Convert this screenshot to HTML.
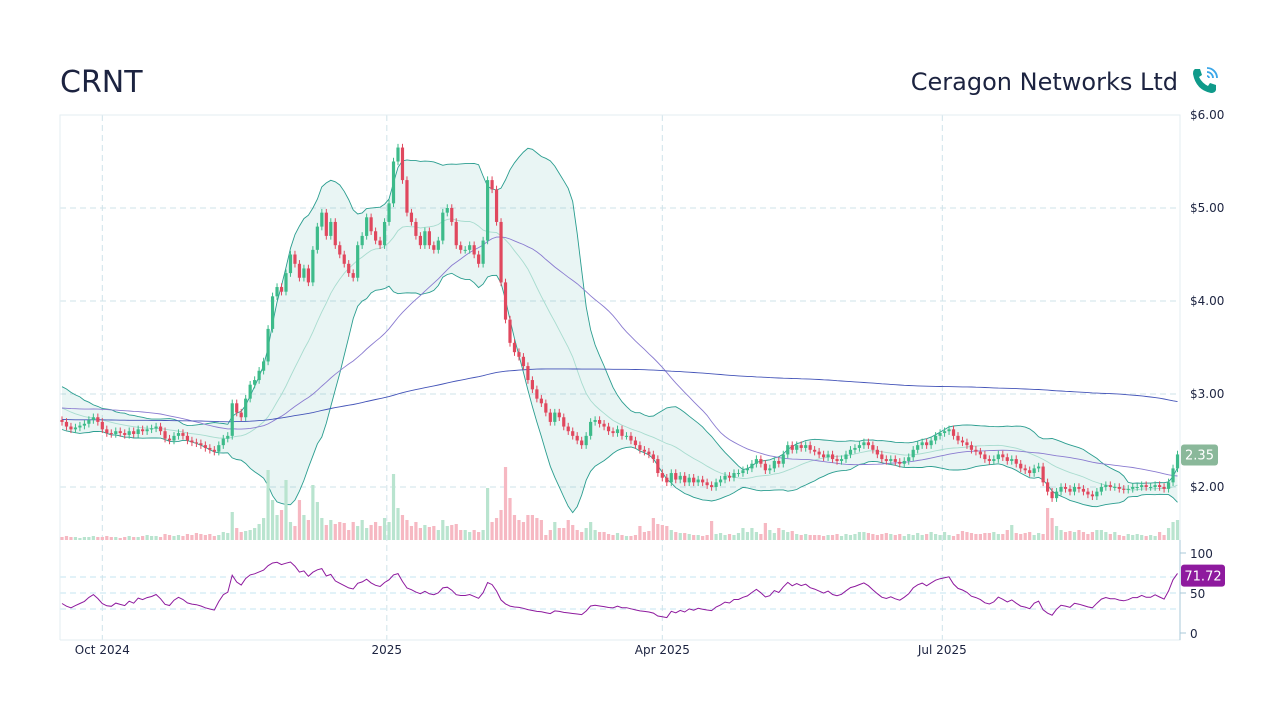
<!DOCTYPE html>
<html><head><meta charset="utf-8"><style>
body{margin:0;background:#fff;font-family:"DejaVu Sans","Liberation Sans",sans-serif;}
#wrap{position:relative;width:1280px;height:720px;overflow:hidden}
.t{position:absolute;color:#1c2340}
</style></head><body>
<div id="wrap">
<div class="t" style="left:60px;top:65px;font-size:30px">CRNT</div>
<div class="t" style="right:102px;top:68px;font-size:24px">Ceragon Networks Ltd</div>
<svg style="position:absolute;left:1190px;top:66px" width="30" height="30" viewBox="0 0 30 30">
<path d="M5 3 L10 3 L12 9 L9 11 Q12 17 18 20 L20 17 L26 19 L26 24 Q25 27 21 27 Q6 24 3 8 Q3 4 5 3Z" fill="#0f9a8a"/>
<path d="M17 6 A6 6 0 0 1 23 12" stroke="#3aa6e8" stroke-width="1.8" fill="none"/>
<path d="M17 2 A10 10 0 0 1 27 12" stroke="#3aa6e8" stroke-width="1.8" fill="none"/>
<path d="M17 10 A2 2 0 0 1 19 12" stroke="#3aa6e8" stroke-width="1.8" fill="none"/>
</svg>
<svg id="c" width="1280" height="720" style="position:absolute;left:0;top:0"></svg>
</div>
<script>
const priorCloses=[2.80,2.85,2.82,2.78,2.75,2.70,2.72,2.68,2.65,2.70,
2.74,2.78,2.80,2.76,2.72,2.69,2.66,2.62,2.60,2.64,
2.68,2.70,2.73,2.75,2.71,2.68,2.65,2.63,2.60,2.58,
2.62,2.65,2.68,2.70,2.72,2.75,2.78,2.74,2.70,2.67,
2.64,2.61,2.58,2.55,2.58,2.62,2.66,2.70,2.73,2.76,
2.79,2.82,2.78,2.74,2.70,2.66,2.63,2.60,2.62,2.65,
2.68,2.71,2.74,2.70,2.67,2.64,2.61,2.58,2.56,2.59,
2.62,2.66,2.69,2.72,2.75,2.72,2.69,2.66,2.63,2.60,
2.58,2.61,2.64,2.67,2.70,2.73,2.76,2.72,2.68,2.65,
2.62,2.60,2.63,2.66,2.69,2.72,2.75,2.78,2.74,2.70,
2.67,2.64,2.61,2.58,2.55,2.58,2.61,2.64,2.67,2.70,
2.72,2.74,2.70,2.67,2.64,2.62,2.60,2.63,2.66,2.69,
2.72,2.75,2.71,2.68,2.65,2.62,2.60,2.58,2.61,2.64,
2.67,2.70,2.73,2.76,2.72,2.69,2.66,2.63,2.60,2.62,
2.65,2.68,2.71,2.74,2.77,2.80,2.84,2.88,2.92,2.96,
2.78,2.80,2.76,2.72,2.75,2.78,2.74,2.70,2.72,2.76,
2.74,2.70,2.73,2.76,2.72,2.75,2.78,2.74,2.80,2.84,
2.88,2.92,2.95,3.00,3.04,3.02,3.06,3.08,3.05,3.10,
3.10,3.05,3.08,3.00,2.95,2.98,2.90,2.92,2.85,2.88,
2.82,2.80,2.84,2.78,2.75,2.78,2.72,2.74,2.70,2.72];
const closes=[2.70,2.65,2.62,2.64,2.66,2.68,2.72,2.75,2.70,2.62,
2.58,2.57,2.60,2.58,2.56,2.60,2.57,2.62,2.60,2.62,
2.63,2.65,2.60,2.52,2.50,2.55,2.58,2.55,2.50,2.48,
2.47,2.45,2.42,2.40,2.38,2.45,2.52,2.55,
2.90,2.80,2.75,2.95,3.10,3.15,3.25,3.35,
3.70,4.05,4.15,4.10,4.30,4.50,4.40,4.25,4.35,4.20,
4.55,4.80,4.95,4.70,4.85,4.60,4.50,4.40,4.30,4.25,
4.60,4.70,4.90,4.75,4.65,4.60,4.85,5.05,5.50,5.65,
5.30,4.95,4.85,4.70,4.60,4.75,4.60,4.55,4.65,4.95,
5.00,4.85,4.60,4.55,4.55,4.60,4.50,4.40,4.65,5.30,
5.20,4.85,4.20,3.80,3.55,
3.45,3.40,3.30,3.15,3.05,2.95,2.90,2.80,2.70,2.80,
2.75,2.65,2.60,2.55,2.50,2.45,2.55,2.70,2.72,2.68,
2.65,2.60,2.58,2.62,2.55,2.55,2.50,2.45,2.40,2.38,
2.35,2.30,2.15,2.10,2.05,2.15,2.08,2.12,2.05,2.10,
2.05,2.08,2.05,2.02,2.00,2.05,2.08,2.12,2.10,2.15,
2.15,2.18,2.20,2.25,2.30,2.25,2.18,2.20,2.28,2.25,
2.35,2.45,2.40,2.45,2.42,2.45,2.40,2.38,2.35,2.32,
2.35,2.30,2.28,2.30,2.35,2.40,2.42,2.45,2.48,2.45,
2.40,2.35,2.30,2.28,2.30,2.27,2.25,2.28,2.32,2.40,
2.45,2.48,2.45,2.50,2.55,2.58,2.60,2.62,2.55,2.50,
2.48,2.45,2.40,2.38,2.35,2.30,2.28,2.30,2.35,2.32,
2.28,2.30,2.25,2.20,2.18,2.15,2.20,2.22,2.05,1.95,
1.88,1.95,2.00,1.98,1.95,2.00,1.98,1.95,1.92,1.90,
1.95,2.00,2.02,2.00,2.00,1.98,1.97,1.98,2.00,2.00,
2.02,2.00,2.00,2.02,2.00,1.98,2.05,2.20,2.35];
const volumes=[3,4,3,3,2,3,3,4,3,3,4,3,3,2,3,4,3,3,4,5,4,4,3,6,5,4,5,4,6,5,7,6,5,6,4,5,8,7,
28,12,8,9,10,12,16,22,
70,40,25,30,60,18,14,40,25,20,
55,38,22,15,20,16,18,17,10,18,
14,20,12,15,18,14,22,18,66,32,
25,20,14,18,12,15,13,14,10,20,
14,15,16,10,10,8,10,8,10,52,
18,22,30,73,42,
25,20,18,25,25,22,20,5,10,18,
12,12,20,15,10,8,12,18,10,8,
8,6,5,7,5,4,4,5,14,8,
9,22,16,15,14,10,8,7,7,6,
5,5,4,5,19,6,7,5,6,5,
7,12,8,12,8,6,17,10,7,12,
10,8,9,6,5,6,5,5,5,4,
5,5,6,4,6,5,6,8,8,7,
6,5,6,7,6,5,6,4,6,5,
7,5,6,8,6,5,8,5,4,6,
9,8,7,6,6,7,7,8,6,6,
10,15,7,6,7,8,5,7,6,32,
22,14,10,8,9,8,10,8,6,8,
10,10,8,6,8,5,4,6,5,6,
5,4,5,4,8,5,12,18,20];
const priceTicks=[6,5,4,3,2];
const rsiTicks=[100,50,0];
const xTickIdx=[9,72.5,134,196.5];
const xTickLabels=["Oct 2024","2025","Apr 2025","Jul 2025"];
const lastPriceLabel="2.35";
const lastRsiLabel="71.72";

const svg=document.getElementById('c');const NS="http://www.w3.org/2000/svg";
function el(t,a,p){const e=document.createElementNS(NS,t);for(const k in a)e.setAttribute(k,a[k]);(p||svg).appendChild(e);return e;}
const X0=62,DX=4.48;
const x=i=>X0+i*DX;
const y=p=>115+(6-p)*93;
const yr=r=>633-r*0.8;
const yv=v=>540-v;
const g=el('g',{});
priceTicks.forEach(p=>{if(p<6){el('line',{x1:60,x2:1180,y1:y(p),y2:y(p),stroke:'#cfe3ea','stroke-dasharray':'6,4'},g);}
const t=el('text',{x:1190,y:y(p)+4,'font-size':12,fill:'#1c2340'});t.textContent='$'+p.toFixed(2);
});
[70,50,30].forEach(r=>el('line',{x1:60,x2:1180,y1:yr(r),y2:yr(r),stroke:'#c5e6f2','stroke-dasharray':'6,4'},g));
rsiTicks.forEach(r=>{el('line',{x1:1180,x2:1186,y1:yr(r),y2:yr(r),stroke:'#a8c8d8'},g);
const t=el('text',{x:1190,y:yr(r)+5,'font-size':12,fill:'#1c2340'});t.textContent=r;
});
xTickIdx.forEach((i,k)=>{el('line',{x1:x(i),x2:x(i),y1:115,y2:640,stroke:'#cfe3ea','stroke-dasharray':'6,4'},g);
const t=el('text',{x:x(i),y:654,'font-size':12,fill:'#1c2340','text-anchor':'middle'});t.textContent=xTickLabels[k];
});
el('path',{d:'M60 640 V115 H1180 V640 H60',fill:'none',stroke:'#e3edf2'},g);
el('line',{x1:1180,x2:1180,y1:540,y2:640,stroke:'#a8c8d8'},g);
const all=priorCloses.concat(closes);const OFF=priorCloses.length;
const n=closes.length;
function smaAt(w,j){const s=all.slice(Math.max(0,j-w+1),j+1);return s.reduce((a,b)=>a+b,0)/s.length;}
const mid=[],up=[],lo=[],ma50=[],ma200=[];
closes.forEach((c,i)=>{const j=i+OFF;const s=all.slice(j-19,j+1);const m=s.reduce((a,b)=>a+b,0)/20;
const sd=Math.sqrt(s.reduce((a,b)=>a+(b-m)*(b-m),0)/20);mid.push(m);up.push(m+2*sd);lo.push(m-2*sd);
ma50.push(smaAt(50,j));ma200.push(smaAt(200,j));});
const pl=a=>a.map((v,i)=>(i?'L':'M')+x(i).toFixed(1)+' '+y(v).toFixed(1)).join(' ');
const band=el('path',{d:pl(up)+' '+lo.map((v,i)=>'L'+x(n-1-i).toFixed(1)+' '+y(lo[n-1-i]).toFixed(1)).join(' ')+'Z',fill:'rgba(42,157,143,0.1)'});

[[up,'#2a9d8f','bollinger-upper'],[lo,'#2a9d8f','bollinger-lower'],[mid,'#a8dccf','bollinger-middle'],[ma50,'#8a7bd0','ma-50'],[ma200,'#4454b8','ma-200']].forEach(([a,c,nm])=>{
const p=el('path',{d:pl(a),fill:'none',stroke:c,'stroke-width':0.9});});
volumes.forEach((v,i)=>{const upc=closes[i]>=all[i+OFF-1];
const r=el('rect',{x:x(i)-1.6,y:yv(v),width:3.2,height:v,fill:upc?'#b9e4cf':'#f6b8c2'});
});
closes.forEach((c,i)=>{const o=all[i+OFF-1];const upc=c>=o;const col=upc?'#3dbb8a':'#e0485e';
const hi=Math.max(o,c)+0.04,lw=Math.min(o,c)-0.04;
const w=el('line',{x1:x(i),x2:x(i),y1:y(hi),y2:y(lw),stroke:col,'stroke-width':1});

const b=el('rect',{x:x(i)-1.6,y:y(Math.max(o,c)),width:3.2,height:Math.max(1,Math.abs(y(o)-y(c))),fill:col});
});
const rsiAll=[];let ag=0,al=0;
all.forEach((c,j)=>{if(j==0){rsiAll.push(50);return;}const d=c-all[j-1];const gn=Math.max(d,0),ls=Math.max(-d,0);
if(j<=14){ag=(ag*(j-1)+gn)/j;al=(al*(j-1)+ls)/j;}else{ag=(ag*13+gn)/14;al=(al*13+ls)/14;}
rsiAll.push(al==0?100:100-100/(1+ag/al));});
const rsi=rsiAll.slice(OFF);
const rp=el('path',{d:rsi.map((v,i)=>(i?'L':'M')+x(i).toFixed(1)+' '+yr(v).toFixed(1)).join(' '),fill:'none',stroke:'#8e1a9e','stroke-width':1});

const pb=el('rect',{x:1181,y:y(closes[n-1])-10,width:37,height:21,rx:3,fill:'#8ab89a'});

const pt=el('text',{x:1199.5,y:y(closes[n-1])+5,'font-size':13,fill:'#fff','text-anchor':'middle'});pt.textContent=lastPriceLabel;
const rb=el('rect',{x:1181,y:yr(71.72)-11,width:44,height:22,rx:3,fill:'#8e1a9e'});

const rt=el('text',{x:1203,y:yr(71.72)+5,'font-size':13,fill:'#fff','text-anchor':'middle'});rt.textContent=lastRsiLabel;
</script>
</body></html>
